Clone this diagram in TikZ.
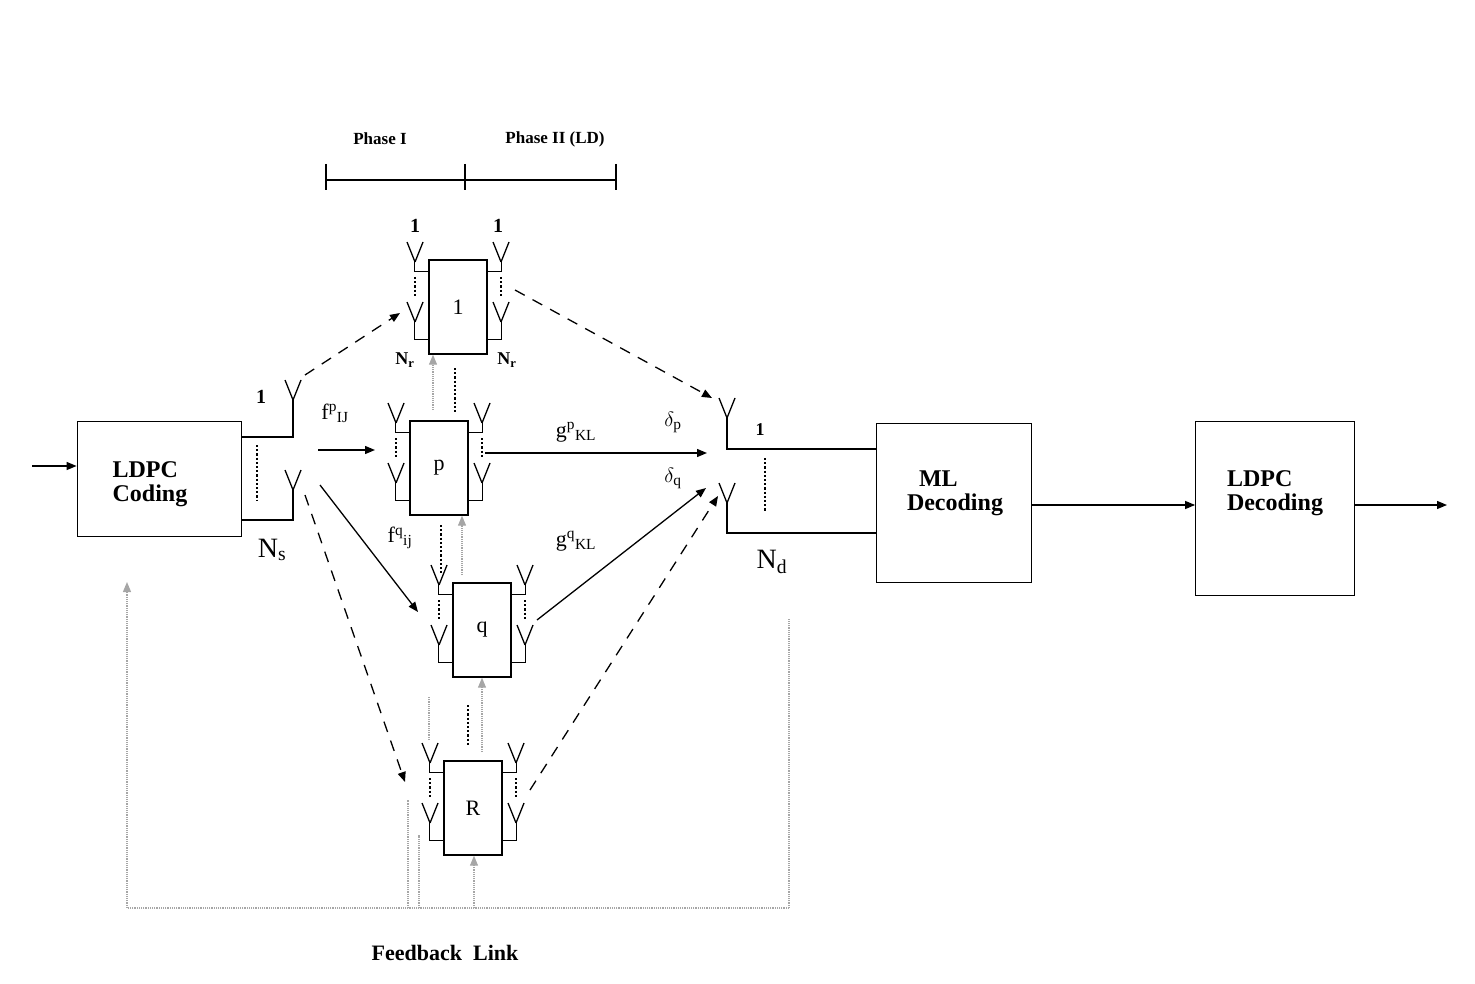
\documentclass[tikz,border=0pt]{standalone}
\usepackage{fontspec}
\setmainfont{Liberation Serif}
\usetikzlibrary{arrows.meta,calc}
\begin{document}
\begin{tikzpicture}[x=1pt,y=-1pt,line width=1.3pt,
  box/.style={draw,thick,minimum width=#1},
  lbl/.style={font=\bfseries\fontsize{24}{26}\selectfont,align=left},
  arr/.style={-{Triangle[length=10pt,width=8pt]}},
  dsh/.style={dash pattern=on 11pt off 9pt},
  fb/.style={gray!70,densely dotted,line width=1.2pt},
  dots/.style={dotted,line width=2.2pt}]
\useasboundingbox (0,0) rectangle (1475,984);
\newcommand\antY[2]{\draw (#1,#2) -- ++(-8,-20) (#1,#2) -- ++(8,-20);}
\newcommand\relay[4]{%
  \node[draw,line width=1.4pt,minimum width=58pt,minimum height=94pt,inner sep=0,font=\fontsize{22}{24}\selectfont] (#1) at (#2,#3) {#4};
  \draw ($(#1.north west)+(0,12)$) -- ++(-14,0) -- ++(0,-10);
  \antY{#2-43}{#3-45}
  \draw ($(#1.north west)+(0,80)$) -- ++(-14,0) -- ++(0,-18);
  \antY{#2-43}{#3+15}
  \draw[dots] (#2-43,#3-30) -- (#2-43,#3-10);
  \draw ($(#1.north east)+(0,12)$) -- ++(14,0) -- ++(0,-10);
  \antY{#2+43}{#3-45}
  \draw ($(#1.north east)+(0,80)$) -- ++(14,0) -- ++(0,-18);
  \antY{#2+43}{#3+15}
  \draw[dots] (#2+43,#3-30) -- (#2+43,#3-10);}
% Phase bar
\draw (326,180) -- (616,180) (326,164) -- (326,190) (465,164) -- (465,190) (616,164) -- (616,190);
\node[font=\bfseries\fontsize{17}{19}\selectfont] (ph1) at (380,139) {Phase I};
\node[font=\bfseries\fontsize{17}{19}\selectfont] (ph2) at (555,139) {Phase II (LD)};
% source
\node[box=164pt,minimum height=115pt] (enc) at (159,479) {};
\node[lbl] (enct) at (150,484) {LDPC\\[-2pt]Coding};
\coordinate (in) at (32,466);
\draw[arr] (in) -- (enc.west |- in);
\draw (enc.east |- 0,437) -- (293,437) -- (293,400); \antY{293}{400}
\draw (enc.east |- 0,520) -- (293,520) -- (293,490); \antY{293}{490}
\draw[dots] (257,445) -- (257,500);
\node[font=\bfseries\fontsize{20}{22}\selectfont] (s1) at (261,397) {1};
\node[font=\fontsize{28}{30}\selectfont] (ns) at (272,550) {N$_\mathrm{s}$};
% relays
\relay{r1}{458}{307}{1}
\relay{rp}{439}{468}{p}
\relay{rq}{482}{630}{q}
\relay{rR}{473}{808}{R}
\node[font=\bfseries\fontsize{20}{22}\selectfont] at (415,226) {1};
\node[font=\bfseries\fontsize{20}{22}\selectfont] at (498,226) {1};
\node[font=\bfseries\fontsize{18}{20}\selectfont] at (405,360) {N$_\mathbf{r}$};
\node[font=\bfseries\fontsize{18}{20}\selectfont] at (507,360) {N$_\mathbf{r}$};
% destination
\node[box=155pt,minimum height=159pt] (ml) at (954,503) {};
\node[lbl] (mlt) at (955,493) {\ \ ML\\[-2pt]Decoding};
\node[box=159pt,minimum height=174pt] (dec) at (1275,508) {};
\node[lbl] (dect) at (1275,493) {LDPC\\[-2pt]Decoding};
\draw (ml.west |- 0,449) -- (727,449) -- (727,418); \antY{727}{418}
\draw (ml.west |- 0,533) -- (727,533) -- (727,503); \antY{727}{503}
\draw[dots] (765,458) -- (765,512);
\node[font=\bfseries\fontsize{18}{20}\selectfont] (d1) at (760,430) {1};
\node[font=\fontsize{28}{30}\selectfont] (nd) at (772,562) {N$_\mathrm{d}$};
\draw[arr] (ml.east |- 0,505) -- (dec.west |- 0,505);
\coordinate (out) at (1447,505);
\draw[arr] (dec.east |- out) -- (out);
% links
\coordinate (a1) at (305,375); \coordinate (a2) at (400,313);
\draw[dsh,arr] (a1) -- (a2);
\coordinate (fp1) at (318,450); \coordinate (fp2) at (375,450);
\draw[arr] (fp1) -- (fp2);
\coordinate (fq1) at (320,485); \coordinate (fq2) at (418,612);
\draw[arr] (fq1) -- (fq2);
\coordinate (fr1) at (305,495); \coordinate (fr2) at (405,782);
\draw[dsh,arr] (fr1) -- (fr2);
\coordinate (g11) at (515,290); \coordinate (g12) at (712,398);
\draw[dsh,arr] (g11) -- (g12);
\coordinate (gp1) at (485,453); \coordinate (gp2) at (707,453);
\draw[arr] (gp1) -- (gp2);
\coordinate (gq1) at (537,620); \coordinate (gq2) at (706,488);
\draw[arr] (gq1) -- (gq2);
\coordinate (gr1) at (530,790); \coordinate (gr2) at (718,496);
\draw[dsh,arr] (gr1) -- (gr2);
\node[font=\fontsize{22}{24}\selectfont] (lfp) at (335,413) {f$^{\mathrm{p}}{}_{\mathrm{IJ}}$};
\node[font=\fontsize{22}{24}\selectfont] (lfq) at (400,538) {f$^{\mathrm{q}}{}_{\mathrm{ij}}$};
\node[font=\fontsize{22}{24}\selectfont] (lgp) at (576,432) {g$^{\mathrm{p}}{}_{\mathrm{KL}}$};
\node[font=\fontsize{22}{24}\selectfont] (lgq) at (576,541) {g$^{\mathrm{q}}{}_{\mathrm{KL}}$};
\node[font=\fontsize{22}{24}\selectfont] (ldp) at (673,422) {$\delta_{\mathrm{p}}$};
\node[font=\fontsize{22}{24}\selectfont] (ldq) at (673,478) {$\delta_{\mathrm{q}}$};
% dotted vertical arrows
\coordinate (v1) at (433,410); \draw[fb,arr] (v1) -- (r1.south -| v1);
\draw[dots] (455,368) -- (455,412);
\coordinate (v2) at (462,575); \draw[fb,arr] (v2) -- (rp.south -| v2);
\draw[dots] (441,525) -- (441,575);
\coordinate (v3) at (482,752); \draw[fb,arr] (v3) -- (rq.south -| v3);
\draw[dots] (468,705) -- (468,745);
\coordinate (v4) at (474,908); \draw[fb,arr] (v4) -- (rR.south -| v4);
% feedback
\coordinate (fbL) at (127,908); \coordinate (fbT) at (127,582); \coordinate (fbR) at (789,908);
\draw[fb] (fbR) -- (fbL);
\draw[fb,arr] (fbL) -- (fbT);
\draw[fb] (fbR) -- (789,618);
\draw[fb] (408,908) -- (408,800) (419,908) -- (419,835) (429,740) -- (429,697);
\node[font=\bfseries\fontsize{22}{24}\selectfont] (fbl) at (445,953) {Feedback\ \ Link};
\end{tikzpicture}
\end{document}
